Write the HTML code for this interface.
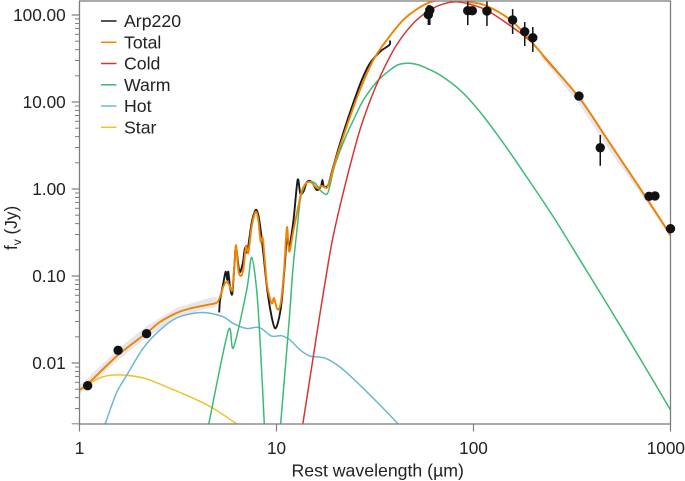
<!DOCTYPE html>
<html lang="en">
<head>
<meta charset="utf-8">
<title>Arp220 SED</title>
<style>
html,body{margin:0;padding:0;background:#fff;}
svg{display:block;font-family:"Liberation Sans",Arial,sans-serif;fill:#222;}
text{font-size:17.2px;fill:#222;}
</style>
</head>
<body>
<svg id="chart" width="685" height="481" viewBox="0 0 685 481" xmlns="http://www.w3.org/2000/svg">
  <defs><clipPath id="plot-clip"><rect x="79.5" y="1" width="591" height="423"></rect></clipPath></defs>
  <g id="plot" clip-path="url(#plot-clip)"></g>
  <rect x="79.5" y="1" width="591" height="423" fill="none" stroke="#7d7d7d" stroke-width="1.3"></rect>
  <g id="axes"></g>
  <g id="points"></g>
  <text x="291.5" y="476.5" style="font-size:17.7px">Rest wavelength (µm)</text>
  <text transform="translate(17,250) rotate(-90)">f<tspan dy="4" font-size="12">v</tspan><tspan dy="-4"> (Jy)</tspan></text>
  <g>
    <g><line x1="101" x2="116.5" y1="21" y2="21" stroke="#1a1a1a" stroke-width="1.5"></line><text x="124" y="27" style="font-size:17.7px">Arp220</text></g>
    <g><line x1="101" x2="116.5" y1="42.3" y2="42.3" stroke="#f08300" stroke-width="1.5"></line><text x="124" y="48.5" style="font-size:17.7px">Total</text></g>
    <g><line x1="101" x2="116.5" y1="63.5" y2="63.5" stroke="#d8362e" stroke-width="1.5"></line><text x="124" y="69.5" style="font-size:17.7px">Cold</text></g>
    <g><line x1="101" x2="116.5" y1="84.8" y2="84.8" stroke="#3dba74" stroke-width="1.5"></line><text x="124" y="91" style="font-size:17.7px">Warm</text></g>
    <g><line x1="101" x2="116.5" y1="106" y2="106" stroke="#6cb8d2" stroke-width="1.5"></line><text x="124" y="112" style="font-size:17.7px">Hot</text></g>
    <g><line x1="101" x2="116.5" y1="127.3" y2="127.3" stroke="#eec42c" stroke-width="1.5"></line><text x="124" y="133.5" style="font-size:17.7px">Star</text></g>
  </g>
</svg>
<script>
// Tick data
var xTickValues = [1, 10, 100, 1000];
var xTickLabels = ['1', '10', '100', '1000'];
var yTickValues = [100, 10, 1, 0.1, 0.01];
var yTickLabels = ['100.00', '10.00', '1.00', '0.10', '0.01'];

// Arp220 template (µm, Jy)
var arpWave = [5.12,5.17,5.37,5.52,5.63,5.69,5.81,5.96,6.11,6.23,6.48,6.74,6.92,7.11,7.48,7.84,8.08,8.31,8.57,8.98,9.45,9.83,10.2,10.6,11.0,11.3,11.6,12.2,12.8,13.2,13.7,14.3,15.1,16.0,16.8,17.1,17.4,18.3,19.4,21.8,24.5,27.1,29.8,33.5,37.4,37.7];
var arpFlux = [0.0389,0.053,0.0824,0.112,0.09,0.112,0.0753,0.0621,0.128,0.217,0.112,0.14,0.21,0.19,0.406,0.574,0.502,0.338,0.184,0.069,0.034,0.0251,0.0299,0.049,0.128,0.283,0.217,0.441,1.27,0.893,0.931,1.21,1.21,0.975,1.07,1.27,1.07,1.11,1.80,4.37,9.66,17.9,27.9,37.8,45.2,49.9];

// Total model
var totalWave = [1,1.10,1.57,2.19,2.56,3.11,3.64,4.42,4.97,5.17,5.37,5.59,5.81,5.96,6.11,6.23,6.40,6.58,6.78,7.00,7.19,7.48,7.84,8.08,8.31,8.51,8.74,8.98,9.45,9.71,10.1,10.5,10.9,11.3,11.6,12.2,12.9,13.4,14.2,15.1,16.0,17.0,18.0,18.7,19.4,20.2,23.3,26.5,31.0,36.3,44.0,53.5,62.5,72,85,96,117,159,218,235,347,474,757,1000];
var totalFlux = [0.0049,0.00574,0.01236,0.0221,0.0296,0.0376,0.0423,0.0464,0.0493,0.0578,0.0753,0.0859,0.0753,0.069,0.128,0.227,0.117,0.100,0.117,0.221,0.184,0.369,0.548,0.441,0.248,0.274,0.141,0.0753,0.0485,0.0558,0.0414,0.0485,0.108,0.363,0.19,0.338,0.627,0.931,1.18,1.18,1.03,1.08,1.03,1.27,1.74,2.35,6.21,13.7,30.4,51.6,87.7,123,144,148,149,141,127,83,37.8,30.4,11.0,3.83,0.782,0.296];

// Cold component
var coldWave = [13.6,14.6,15.7,16.8,18.0,19.4,22.7,26.5,30.4,34.8,40.7,49.5,60.1,70.3,82.2,99.4,117,147,186,218,347,474,757,1000];
var coldFlux = [0.00199,0.00558,0.0161,0.0429,0.111,0.288,1.30,4.76,11.5,23.3,45.2,80.3,114,134,142,130,113,80.9,54.5,37.8,10.9,3.8,0.775,0.29];

// Warm component
var warmWave = [4.53,5.69,6.04,7.06,7.48,7.93,8.25,8.67];
var warmFlux = [0.00199,0.0235,0.015,0.069,0.164,0.069,0.0184,0.002];
var warmWave2 = [10.5,11.6,12.1,12.7,13.2,13.8,14.5,15.7,16.6,18.0,18.7,19.8,22.3,25.0,27.6,32.3,37.7,41.4,46.7,52.3,57.9,67.6,85.4,108,142,186,254,347,474,700,1000];
var warmFlux2 = [0.002,0.0312,0.117,0.338,0.748,1.05,1.21,1.17,0.974,0.869,1.11,1.89,3.85,6.73,10.5,17.1,23.3,26.8,27.9,26.8,24.4,20.4,13.7,7.67,3.35,1.38,0.481,0.153,0.0485,0.0113,0.00288];

// Hot component
var hotWave = [1.35,1.54,1.74,2.11,2.56,3.11,3.78,4.42,5.37,6.04,7.06,8.15,9.45,10.6,11.7,13.2,14.8,17.6,21.0,26.5,33.5,41.4];
var hotFlux = [0.002,0.00452,0.00728,0.0149,0.0239,0.0329,0.0372,0.0378,0.034,0.0284,0.0249,0.0257,0.0204,0.0206,0.0184,0.0141,0.012,0.0114,0.009,0.00558,0.00329,0.002];

// Stellar component
var starWave = [1,1.09,1.32,1.64,2.11,2.47,2.88,3.78,4.78,6.23];
var starFlux = [0.0049,0.00558,0.00697,0.00728,0.00673,0.00592,0.00512,0.00393,0.00301,0.00202];

// Uncertainty ribbons
var bandWaveA = [1,1.57,2.19,3.11,4.42,4.97];
var bandLowA = [0.0044,0.0108,0.0195,0.033,0.042,0.044];
var bandHighA = [0.0055,0.0145,0.0265,0.043,0.055,0.058];
var bandWaveB = [218,347,474,757,1000];
var bandLowB = [34,9.2,3.1,0.7,0.29];
var bandHighB = [38,11,3.83,0.782,0.30];

// Photometry
var obsWave = [1.10,1.57,2.19,59,60,93.5,98.6,117,158,182,200,343,440,778,834,1000];
var obsFlux = [0.00548,0.014,0.0217,101,114,112,112,111,87.7,64.3,54.8,11.7,2.98,0.824,0.832,0.35];
var obsLow = [0.00548,0.014,0.0217,76.7,76.7,76.7,112,74.8,60.5,44,37.6,11.7,1.85,0.824,0.75,0.35];
var obsHigh = [0.00548,0.014,0.0217,130,130,150,112,150,117,83,72.8,11.7,4.18,0.824,0.9,0.35];

var NS = 'http://www.w3.org/2000/svg';
var plot = document.getElementById('plot');
var axes = document.getElementById('axes');
var points = document.getElementById('points');

function xScale(w) { return 79.5 + 197 * Math.log10(w); }
function yScale(f) { return 363 - 87 * (Math.log10(f) + 2); }

function make(tag, attrs, parent) {
  var el = document.createElementNS(NS, tag);
  for (var k in attrs) { el.setAttribute(k, attrs[k]); }
  parent.appendChild(el);
  return el;
}

function smoothPath(wave, flux) {
  var p = wave.map(function (w, i) { return [xScale(w), yScale(flux[i])]; });
  var d = 'M' + p[0][0].toFixed(2) + ' ' + p[0][1].toFixed(2);
  for (var i = 0; i < p.length - 1; i++) {
    var a = p[Math.max(i - 1, 0)], b = p[i], c = p[i + 1], e = p[Math.min(i + 2, p.length - 1)];
    var k = 0.15;
    d += 'C' + (b[0] + (c[0] - a[0]) * k).toFixed(2) + ' ' + (b[1] + (c[1] - a[1]) * k).toFixed(2) + ' ' +
      (c[0] - (e[0] - b[0]) * k).toFixed(2) + ' ' + (c[1] - (e[1] - b[1]) * k).toFixed(2) + ' ' +
      c[0].toFixed(2) + ' ' + c[1].toFixed(2);
  }
  return d;
}

function bandPath(wave, low, high) {
  var pts = [];
  wave.forEach(function (w, i) { pts.push(xScale(w).toFixed(2) + ',' + yScale(high[i]).toFixed(2)); });
  for (var i = wave.length - 1; i >= 0; i--) { pts.push(xScale(wave[i]).toFixed(2) + ',' + yScale(low[i]).toFixed(2)); }
  return 'M' + pts.join('L') + 'Z';
}

var ribbonA = make('path', { d: bandPath(bandWaveA, bandLowA, bandHighA), fill: '#e7e6ec' }, plot);


var ribbonB = make('path', { d: bandPath(bandWaveB, bandLowB, bandHighB), fill: '#e7e6ec' }, plot);



function drawLine(wave, flux, color, width) {
  return make('path', { d: smoothPath(wave, flux), fill: 'none', stroke: color, 'stroke-width': width, 'stroke-linejoin': 'round', 'stroke-linecap': 'round' }, plot);
}

var arpLine = drawLine(arpWave, arpFlux, '#1a1a1a', 1.9);


var starLine = drawLine(starWave, starFlux, '#eec42c', 1.5);


var hotLine = drawLine(hotWave, hotFlux, '#6cb8d2', 1.5);


var warmLineA = drawLine(warmWave, warmFlux, '#3dba74', 1.5);


var warmLineB = drawLine(warmWave2, warmFlux2, '#3dba74', 1.5);


var coldLine = drawLine(coldWave, coldFlux, '#d8362e', 1.5);


var totalLine = drawLine(totalWave, totalFlux, '#f08300', 1.9);



obsWave.forEach(function (w, i) {
  var bar = make('line', { x1: xScale(w), x2: xScale(w), y1: yScale(obsLow[i]), y2: yScale(obsHigh[i]), stroke: '#111', 'stroke-width': 1.5 }, plot);
  
  
  var dot = make('circle', { cx: xScale(w), cy: yScale(obsFlux[i]), r: 4.7, fill: '#111' }, points);
  
  
});

var tickColor = '#7d7d7d';
xTickValues.forEach(function (v, i) {
  var tick = make('line', { x1: xScale(v), x2: xScale(v), y1: 424, y2: 431.5, stroke: tickColor, 'stroke-width': 1.2 }, axes);
  
  
  var label = make('text', { x: v === 1000 ? 685 : xScale(v), y: 454, 'text-anchor': v === 1000 ? 'end' : 'middle' }, axes);
  label.textContent = xTickLabels[i];
  
  
});
yTickValues.forEach(function (v, i) {
  var tick = make('line', { x1: 71.7, x2: 79.5, y1: yScale(v), y2: yScale(v), stroke: tickColor, 'stroke-width': 1.2 }, axes);
  
  
  var label = make('text', { x: 65.7, y: yScale(v) + 6, 'text-anchor': 'end' }, axes);
  label.textContent = yTickLabels[i];
  
  
});
var minorDecades = [0.001, 0.01, 0.1, 1, 10];
var minorSteps = [2, 3, 4, 5, 6, 7, 8, 9];
minorDecades.forEach(function (dec) {
  minorSteps.forEach(function (m) {
    var v = dec * m;
    if (v < 0.00199 || v > 100) { return; }
    var isEdge = v < 0.0021;
    var tick = make('line', { x1: isEdge ? 71.7 : 75, x2: 79.5, y1: yScale(v), y2: yScale(v), stroke: tickColor, 'stroke-width': 1 }, axes);
    
    
  });
});
</script>
</body>
</html>
